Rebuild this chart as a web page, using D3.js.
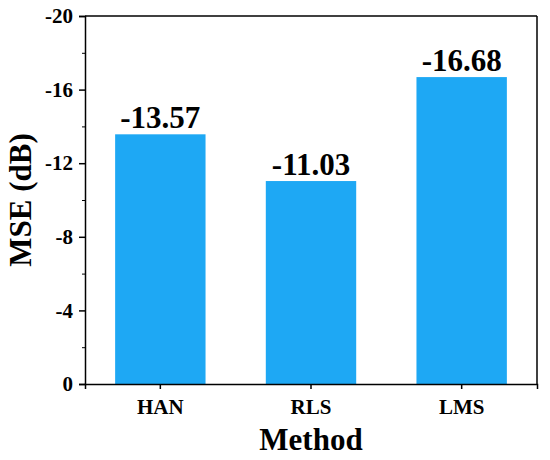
<!DOCTYPE html>
<html>
<head>
<meta charset="utf-8">
<script src="https://cdn.jsdelivr.net/npm/d3@7"></script>
<style>
  body { margin: 0; background: #fff; }
  text { font-family: "Liberation Serif", "Times New Roman", serif; font-weight: bold; }
</style>
</head>
<body>
<div id="chart"></div>
<script>
// Data
var methods = ["HAN", "RLS", "LMS"];
var mse = [-13.57, -11.03, -16.68];
var yTicks = [0, -4, -8, -12, -16, -20];
var yMinorTicks = [-2, -6, -10, -14, -18];

var margin = {top: 16, right: 13, bottom: 76, left: 85},
    width = 550 - margin.left - margin.right,
    height = 460 - margin.top - margin.bottom;

var svg = d3.select("#chart")
  .append("svg")
    .attr("width", 550)
    .attr("height", 460)
  .append("g")
    .attr("transform", "translate(" + margin.left + "," + margin.top + ")");

var x = d3.scaleBand().domain(methods).range([0, width]).paddingInner(0.4).paddingOuter(0.2);
// values are negative dB; more negative goes up
var y = d3.scaleLinear().domain([0, -20]).range([height, 0]);

// Bars
svg.selectAll("rect.bar")
  .data(mse)
  .enter()
  .append("rect")
    .attr("class", "bar")
    .attr("x", function(d, i) { return x(methods[i]); })
    .attr("y", function(d) { return y(d); })
    .attr("width", x.bandwidth())
    .attr("height", function(d) { return height - y(d); })
    .attr("fill", "#1ea8f4");

// Value labels
svg.selectAll("text.val")
  .data(mse)
  .enter()
  .append("text")
    .attr("class", "val")
    .attr("x", function(d, i) { return x(methods[i]) + x.bandwidth() / 2; })
    .attr("y", function(d) { return y(d) - 6; })
    .attr("text-anchor", "middle")
    .style("font-size", "31px")
    .text(function(d) { return d.toFixed(2); });

// Axes
var yAxis = d3.axisLeft(y).tickValues(yTicks).tickSize(6).tickPadding(6)
  .tickFormat(function(d) { return d === 0 ? "0" : String(d); });
var gy = svg.append("g").call(yAxis);
gy.selectAll("text").style("font-size", "21px").attr("fill", "#000");

svg.append("g").call(d3.axisLeft(y).tickValues(yMinorTicks).tickSize(3).tickFormat(""))
  .select(".domain").remove();

var gx = svg.append("g")
  .attr("transform", "translate(0," + height + ")")
  .call(d3.axisBottom(x).tickSize(5).tickPadding(10));
gx.selectAll("text").style("font-size", "21px").attr("fill", "#000");

[gx, gy].forEach(function(g) {
  g.selectAll("path, line").attr("stroke", "#000").attr("stroke-width", 1.5);
});

// Frame top and right
svg.append("line").attr("x1", 0).attr("x2", width).attr("y1", 0).attr("y2", 0)
  .attr("stroke", "#000").attr("stroke-width", 1.5);
svg.append("line").attr("x1", width).attr("x2", width).attr("y1", 0).attr("y2", height)
  .attr("stroke", "#000").attr("stroke-width", 1.5);

// Axis titles
svg.append("text")
  .attr("x", width / 2)
  .attr("y", height + 66)
  .attr("text-anchor", "middle")
  .style("font-size", "31px")
  .text("Method");

svg.append("text")
  .attr("transform", "translate(-54," + (height / 2) + ") rotate(-90)")
  .attr("text-anchor", "middle")
  .style("font-size", "31px")
  .text("MSE (dB)");
</script>
</body>
</html>
